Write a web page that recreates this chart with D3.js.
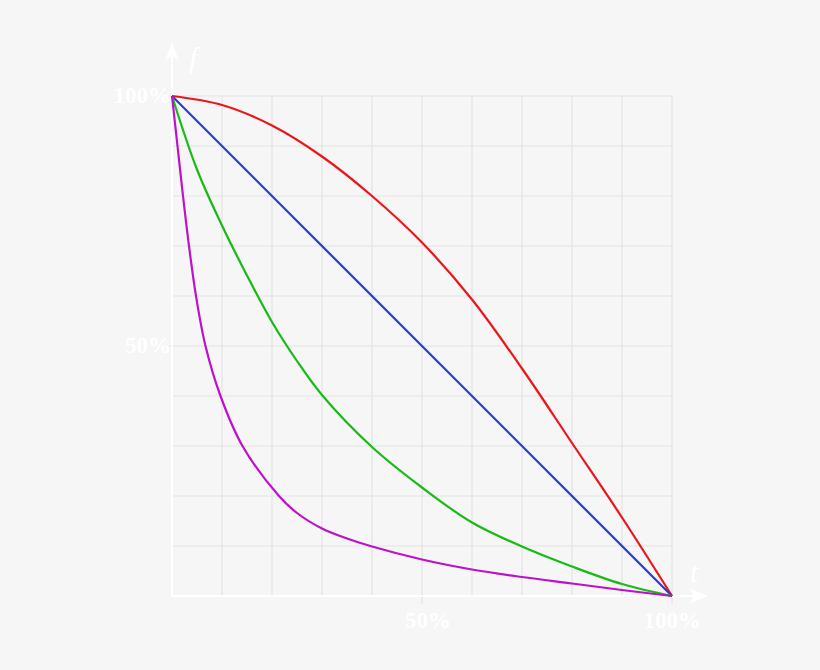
<!DOCTYPE html>
<html>
<head>
<meta charset="utf-8">
<script src="https://cdn.jsdelivr.net/npm/d3@7"></script>
<style>
  html, body { margin: 0; padding: 0; background: #f6f6f6; }
  svg { display: block; }
  .lbl { fill: #ffffff; font-family: "Liberation Serif", "DejaVu Serif", serif; font-weight: bold; font-size: 23px; }
  .var { fill: #ffffff; font-family: "Liberation Serif", "DejaVu Serif", serif; font-style: italic; font-size: 30px; }
</style>
</head>
<body>
<div id="chart"></div>
<script>
// grid + tick data
var gridTicks = [0, 0.1, 0.2, 0.3, 0.4, 0.5, 0.6, 0.7, 0.8, 0.9, 1];
var xLabelValues = [0.5, 1];
var xLabels = ["50%", "100%"];
var yLabelValues = [0.5, 1];
var yLabels = ["50%", "100%"];

// curves: [t, f]
var redPts = [[0, 1], [0.1, 0.982], [0.2, 0.941], [0.3, 0.879], [0.4, 0.80], [0.5, 0.707],
              [0.6, 0.593], [0.7, 0.455], [0.8, 0.306], [0.9, 0.157], [1, 0]];
var bluePts = [[0, 1], [1, 0]];
var greenPts = [[0, 1], [0.05, 0.853], [0.1, 0.741], [0.15, 0.641], [0.2, 0.548], [0.25, 0.47],
                [0.3, 0.402], [0.4, 0.298], [0.5, 0.217], [0.6, 0.147], [0.7, 0.099],
                [0.8, 0.059], [0.9, 0.024], [1, 0]];
var magentaPts = [[0, 1], [0.011, 0.9], [0.022, 0.8], [0.034, 0.7], [0.048, 0.6], [0.067, 0.5],
                  [0.097, 0.4], [0.141, 0.3], [0.214, 0.2], [0.25, 0.166], [0.3, 0.135],
                  [0.35, 0.115], [0.4, 0.099], [0.5, 0.073], [0.6, 0.053], [0.7, 0.038],
                  [0.8, 0.025], [0.9, 0.012], [1, 0]];

var series = [
    { pts: redPts, color: "#ea161b" },
    { pts: bluePts, color: "#2a3bd6" },
    { pts: greenPts, color: "#17ba17" },
    { pts: magentaPts, color: "#bc12c8" }
];

var width = 820, height = 670;
var svg = d3.select("#chart").append("svg")
            .attr("width", width)
            .attr("height", height);

var x = d3.scaleLinear().domain([0, 1]).range([172, 672]);
var y = d3.scaleLinear().domain([0, 1]).range([596, 96]);

// grid
var grid = svg.append("g").attr("stroke", "#e4e4e4").attr("stroke-width", 1.2);
grid.selectAll("line.v").data(gridTicks).enter().append("line")
    .attr("x1", d => x(d)).attr("x2", d => x(d))
    .attr("y1", y(1)).attr("y2", y(0));
grid.selectAll("line.h").data(gridTicks).enter().append("line")
    .attr("y1", d => y(d)).attr("y2", d => y(d))
    .attr("x1", x(0)).attr("x2", x(1));
// ticks at labelled positions
grid.selectAll("line.tx").data(xLabelValues).enter().append("line")
    .attr("x1", d => x(d)).attr("x2", d => x(d))
    .attr("y1", y(0)).attr("y2", y(0) + 8);
grid.selectAll("line.ty").data(yLabelValues).enter().append("line")
    .attr("y1", d => y(d)).attr("y2", d => y(d))
    .attr("x1", x(0) - 3).attr("x2", x(0));

// axes (white with arrows)
var axes = svg.append("g");
axes.append("line")
    .attr("x1", x(0)).attr("x2", x(0))
    .attr("y1", y(0)).attr("y2", 55)
    .attr("stroke", "#fff").attr("stroke-width", 2);
axes.append("path")
    .attr("d", "M" + x(0) + ",42 l7,19 l-7,-5 l-7,5 Z")
    .attr("fill", "#fff");
axes.append("line")
    .attr("x1", x(0)).attr("x2", 700)
    .attr("y1", y(0)).attr("y2", y(0))
    .attr("stroke", "#fff").attr("stroke-width", 2);
axes.append("path")
    .attr("d", "M708," + y(0) + " l-19,-7.5 l5,7.5 l-5,7.5 Z")
    .attr("fill", "#fff");

// curves
var line = d3.line()
             .x(d => x(d[0]))
             .y(d => y(d[1]))
             .curve(d3.curveCatmullRom.alpha(0.5));
svg.append("g").selectAll("path").data(series).enter().append("path")
   .attr("d", d => line(d.pts))
   .attr("fill", "none")
   .attr("stroke", d => d.color)
   .attr("stroke-width", 2.2);

// labels
svg.selectAll("text.xl").data(xLabelValues).enter().append("text")
   .attr("class", "lbl")
   .attr("x", d => x(d) + 29)
   .attr("y", 628)
   .attr("text-anchor", "end")
   .text((d, i) => xLabels[i]);
svg.selectAll("text.yl").data(yLabelValues).enter().append("text")
   .attr("class", "lbl")
   .attr("x", x(0) - 1)
   .attr("y", d => y(d) + 7)
   .attr("text-anchor", "end")
   .text((d, i) => yLabels[i]);

svg.append("text").attr("class", "var").attr("x", 189).attr("y", 68).text("f");
svg.append("text").attr("class", "var").attr("x", 690).attr("y", 582).text("t");
</script>
</body>
</html>
